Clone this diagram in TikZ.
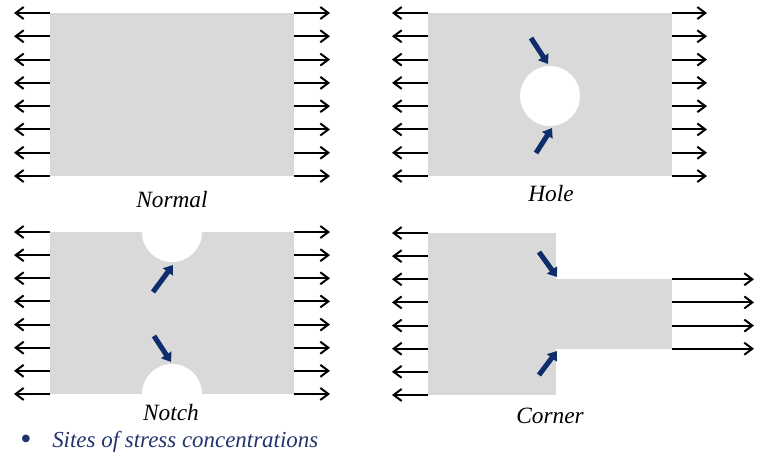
\documentclass[tikz,border=0pt]{standalone}
\usepackage{fontspec}
\setmainfont{Liberation Serif}
\usetikzlibrary{arrows.meta}
\definecolor{plateGray}{HTML}{D9D9D9}
\definecolor{siteNavy}{HTML}{0F2C6B}
\definecolor{noteNavy}{HTML}{22346E}

\begin{document}
\begin{tikzpicture}[x=0.75pt,y=-0.75pt,
  plate/.style={fill=plateGray, draw=none},
  pull/.style={-{Straight Barb[length=6pt,width=9pt]}, line width=1.5pt},
  site/.style={-{Triangle[length=6.5pt,width=9pt]}, line width=3.8pt, draw=siteNavy},
  caption/.style={font=\fontsize{17.5}{20}\selectfont\itshape, inner sep=0pt}
]
\useasboundingbox (0,0) rectangle (768,469);

% plates
\fill[plate] (50,13) rectangle (294,176);
\fill[plate] (428,13) rectangle (672,176);
\fill[plate] (50,232) rectangle (294,394);
\fill[plate] (428,233) rectangle (556,395);
\fill[plate] (556,279) rectangle (672,349);

% hole and notches
\fill[white] (550,96) circle[radius=30];
\begin{scope}
  \clip (50,232) rectangle (294,394);
  \fill[white] (172,232) circle[radius=30];
  \fill[white] (172,394) circle[radius=30];
\end{scope}

% applied load
\foreach \i in {0,...,7} {
  \draw[pull] (50,{13+23.29*\i}) -- (14,{13+23.29*\i});
  \draw[pull] (294,{13+23.29*\i}) -- (330,{13+23.29*\i});
  \draw[pull] (428,{13+23.29*\i}) -- (392,{13+23.29*\i});
  \draw[pull] (672,{13+23.29*\i}) -- (707,{13+23.29*\i});
  \draw[pull] (50,{232+23.14*\i}) -- (14,{232+23.14*\i});
  \draw[pull] (294,{232+23.14*\i}) -- (330,{232+23.14*\i});
  \draw[pull] (428,{233+23.14*\i}) -- (392,{233+23.14*\i});
}
\foreach \i in {2,...,5}
  \draw[pull] (672,{233+23.14*\i}) -- (754,{233+23.14*\i});

% stress concentration sites
\draw[site] (531,38) -- (548,64);
\draw[site] (536,153) -- (552,128);
\draw[site] (153,292) -- (173,265);
\draw[site] (154,336) -- (171,362);
\draw[site] (539,252) -- (557,277);
\draw[site] (539,375) -- (557,351);

% captions
\node[caption] (normal) at (172,200) {Normal};
\node[caption] (hole)   at (551,194) {Hole};
\node[caption] (notch)  at (171,413) {Notch};
\node[caption] (corner) at (550,416) {Corner};

\node[text=noteNavy, font=\fontsize{24}{26}\selectfont, inner sep=0pt] (bullet) at (26,442) {•};
\node[text=noteNavy, font=\fontsize{17.2}{20}\selectfont\itshape, inner sep=0pt, anchor=west] (note) at (52,442) {Sites of stress concentrations};
\end{tikzpicture}
\end{document}
